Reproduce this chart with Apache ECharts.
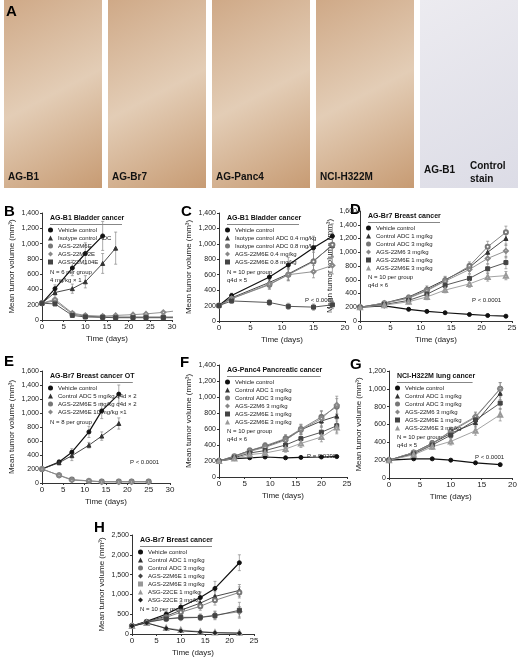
<!DOCTYPE html>
<html><head><meta charset="utf-8">
<script src="https://cdn.jsdelivr.net/npm/echarts@6/dist/echarts.min.js"></script>
<style>html,body{margin:0;background:#fff}#c{width:520px;height:658px}</style>
</head><body><div id="c"></div>
<script>
// ---- data ----
const photoLabels = ["AG-B1", "AG-Br7", "AG-Panc4", "NCI-H322M", "AG-B1"];

const bDays = [0, 3, 7, 10, 14, 17, 21, 24, 28, 31];
const bNames = ["Vehicle control", "Isotype control ADC", "AGS-22M6E", "AGS-22M22E", "AGS-22M104E"];
const bValues = [
  [220, 410, 680, 870, 1100],
  [220, 360, 410, 500, 740, 940],
  [220, 250, 80, 50, 40, 40, 40, 40, 40, 40],
  [220, 270, 90, 60, 50, 60, 70, 80, 100, 120],
  [220, 210, 60, 40, 35, 30, 30, 30, 30, 30]
];
const bErrors = [[20, 50, 100, 140, 190], [20, 40, 60, 80, 130, 210]];

const cDays = [0, 2, 8, 11, 15, 18];
const cNames = ["Vehicle control", "Isotype control ADC 0.4 mg/kg", "Isotype control ADC 0.8 mg/kg", "AGS-22M6E 0.4 mg/kg", "AGS-22M6E 0.8 mg/kg"];
const cValues = [
  [200, 330, 570, 725, 950, 1100],
  [200, 300, 500, 610, 780, 980],
  [200, 290, 470, 600, 770, 990],
  [200, 290, 480, 600, 640, 720],
  [200, 260, 240, 190, 180, 210]
];
const cErrors = [[10, 30, 70, 100, 150, 160], [10, 30, 60, 80, 130, 150], [10, 30, 60, 80, 120, 150], [10, 30, 60, 70, 80, 110], [10, 30, 40, 40, 40, 50]];

const dDays = [0, 4, 8, 11, 14, 18, 21, 24];
const dNames = ["Vehicle control", "Control ADC 1 mg/kg", "Control ADC 3 mg/kg", "AGS-22M6 3 mg/kg", "AGS-22M6E 1 mg/kg", "AGS-22M6E 3 mg/kg"];
const dValues = [
  [200, 220, 170, 140, 120, 95, 80, 70],
  [200, 260, 350, 470, 600, 780, 1000, 1200],
  [200, 260, 340, 450, 590, 800, 1080, 1290],
  [200, 260, 330, 440, 580, 750, 910, 1020],
  [200, 240, 300, 390, 520, 620, 760, 850],
  [200, 230, 280, 350, 450, 540, 640, 660]
];
const dErrors = [[5, 10, 10, 10, 10, 10, 10, 10], [10, 20, 30, 40, 50, 60, 80, 100], [10, 20, 30, 40, 50, 60, 80, 90], [10, 20, 30, 40, 50, 60, 80, 100], [10, 20, 30, 40, 50, 60, 70, 90], [10, 20, 30, 40, 40, 50, 60, 60]];

const eDays = [0, 4, 7, 11, 14, 18, 21, 25];
const eNames = ["Vehicle control", "Control ADC 5 mg/kg q4d × 2", "AGS-22M6E 5 mg/kg q4d × 2", "AGS-22M6E 10 mg/kg ×1"];
const eValues = [
  [200, 300, 440, 730, 1030, 1270],
  [200, 290, 390, 540, 670, 850],
  [200, 110, 50, 30, 20, 20, 20, 20],
  [200, 110, 40, 30, 15, 15, 15, 15]
];
const eErrors = [[10, 30, 50, 80, 110, 130], [10, 30, 70, 40, 60, 80]];

const fDays = [0, 3, 6, 9, 13, 16, 20, 23];
const fNames = ["Vehicle control", "Control ADC 1 mg/kg", "Control ADC 3 mg/kg", "AGS-22M6 3 mg/kg", "AGS-22M6E 1 mg/kg", "AGS-22M6E 3 mg/kg"];
const fValues = [
  [200, 230, 240, 250, 240, 245, 250, 255],
  [200, 260, 330, 380, 470, 590, 700, 760],
  [200, 260, 330, 390, 480, 600, 750, 880],
  [200, 250, 320, 370, 460, 590, 730, 900],
  [200, 240, 300, 330, 400, 480, 560, 640],
  [200, 230, 280, 300, 350, 420, 500, 620]
];
const fErrors = [[5, 10, 10, 10, 10, 10, 10, 10], [10, 20, 30, 40, 50, 60, 80, 90], [10, 20, 30, 40, 50, 60, 80, 100], [10, 20, 30, 40, 50, 60, 90, 110], [10, 20, 30, 40, 50, 60, 70, 80], [10, 20, 30, 30, 40, 50, 60, 80]];

const gDays = [0, 4, 7, 10, 14, 18];
const gNames = ["Vehicle control", "Control ADC 1 mg/kg", "Control ADC 3 mg/kg", "AGS-22M6 3 mg/kg", "AGS-22M6E 1 mg/kg", "AGS-22M6E 3 mg/kg"];
const gValues = [
  [200, 215, 215, 200, 170, 150],
  [200, 285, 390, 500, 620, 950],
  [200, 285, 390, 520, 680, 1000],
  [200, 285, 380, 530, 690, 1000],
  [200, 270, 370, 480, 650, 840],
  [200, 260, 350, 410, 530, 710]
];
const gErrors = [[5, 10, 10, 10, 10, 10], [10, 20, 30, 40, 50, 70], [10, 20, 30, 40, 50, 70], [10, 20, 30, 40, 50, 70], [10, 20, 30, 40, 50, 70], [10, 20, 30, 40, 50, 70]];

const hDays = [0, 3, 7, 10, 14, 17, 22];
const hNames = ["Vehicle control", "Control ADC 1 mg/kg", "Control ADC 3 mg/kg", "AGS-22M6E 1 mg/kg", "AGS-22M6E 3 mg/kg", "ASG-22CE 1 mg/kg", "ASG-22CE 3 mg/kg"];
const hValues = [
  [200, 320, 500, 680, 920, 1150, 1800],
  [200, 310, 450, 600, 780, 950, 1100],
  [200, 300, 420, 550, 700, 850, 1050],
  [200, 290, 380, 400, 420, 480, 560],
  [200, 300, 380, 420, 420, 460, 600],
  [200, 280, 150, 100, 60, 40, 30],
  [200, 280, 140, 80, 50, 30, 20]
];
const hErrors = [[10, 40, 70, 100, 140, 180, 200], [10, 40, 60, 90, 110, 130, 150], [10, 40, 60, 80, 100, 120, 140], [10, 40, 50, 60, 80, 100, 130], [10, 40, 50, 60, 80, 100, 200]];

// ---- chart ----
const symbols = ["circle", "triangle", "emptyCircle", "emptyDiamond", "rect", "emptyTriangle", "diamond"];
const legendIcons = ["circle", "triangle", "circle", "diamond", "rect", "triangle", "diamond"];
const colors = ["#111", "#333", "#777", "#888", "#444", "#999", "#222"];

const panels = [
  { key: "B", title: "AG-B1 Bladder cancer", days: bDays, names: bNames, values: bValues, errors: bErrors, note: ["N = 6 per group", "4 mg/kg × 1"], box: [42, 213, 130, 107], xMax: 30, yMax: 1400, yInt: 200, letter: [4, 204] },
  { key: "C", title: "AG-B1 Bladder cancer", days: cDays, names: cNames, values: cValues, errors: cErrors, note: ["N = 10 per group", "q4d × 5"], box: [219, 213, 126, 108], xMax: 20, yMax: 1400, yInt: 200, letter: [181, 204], p: "P < 0.0001" },
  { key: "D", title: "AG-Br7 Breast cancer", days: dDays, names: dNames, values: dValues, errors: dErrors, note: ["N = 10 per group", "q4d × 6"], box: [360, 211, 152, 110], xMax: 25, yMax: 1600, yInt: 200, letter: [350, 202], p: "P < 0.0001" },
  { key: "E", title: "AG-Br7 Breast cancer OT", days: eDays, names: eNames, values: eValues, errors: eErrors, note: ["N = 8 per group"], box: [42, 371, 128, 112], xMax: 30, yMax: 1600, yInt: 200, letter: [4, 354], p: "P < 0.0001" },
  { key: "F", title: "AG-Panc4 Pancreatic cancer", days: fDays, names: fNames, values: fValues, errors: fErrors, note: ["N = 10 per group", "q4d × 6"], box: [219, 365, 128, 112], xMax: 25, yMax: 1400, yInt: 200, letter: [180, 355], p: "P = 0.0298" },
  { key: "G", title: "NCI-H322M lung cancer", days: gDays, names: gNames, values: gValues, errors: gErrors, note: ["N = 10 per group", "q4d × 5"], box: [389, 371, 126, 107], xMax: 20, yMax: 1200, yInt: 200, letter: [350, 357], p: "P < 0.0001" },
  { key: "H", title: "AG-Br7 Breast cancer", days: hDays, names: hNames, values: hValues, errors: hErrors, note: ["N = 10 per group"], box: [132, 535, 122, 108], xMax: 25, yMax: 2500, yInt: 500, letter: [94, 520] }
];

const grid = [], xAxis = [], yAxis = [], series = [], legend = [], graphic = [];
const small = { fontFamily: "Liberation Sans", color: "#222" };

// photomicrograph placeholders
const photoX = [4, 108, 212, 316, 420];
photoX.forEach((x, i) => {
  const ctrl = i === 4;
  graphic.push({
    type: "rect", shape: { x: x, y: 0, width: 98, height: 188 },
    style: { fill: ctrl ? new echarts.graphic.LinearGradient(0, 0, 1, 1, [{ offset: 0, color: "#ecebf0" }, { offset: 1, color: "#dcdce6" }])
      : new echarts.graphic.LinearGradient(0, 0, 1, 1, [{ offset: 0, color: "#cfa987" }, { offset: 0.5, color: "#e3cdb6" }, { offset: 1, color: "#c79b73" }]) }
  });
  graphic.push({ type: "text", x: x + 4, y: ctrl ? 165 : 172, style: { text: photoLabels[i], font: "bold 10px Liberation Sans", fill: "#111" } });
});
graphic.push({ type: "text", x: 470, y: 160, style: { text: "Control\nstain", font: "bold 10px Liberation Sans", fill: "#111", lineHeight: 13 } });
graphic.push({ type: "text", x: 6, y: 4, style: { text: "A", font: "bold 15px Liberation Sans", fill: "#000" } });

panels.forEach((p, gi) => {
  const [l, t, w, h] = p.box;
  grid.push({ left: l, top: t, width: w, height: h });
  xAxis.push({
    gridIndex: gi, type: "value", min: 0, max: p.xMax, interval: 5,
    name: "Time (days)", nameLocation: "middle", nameGap: 15, nameTextStyle: { ...small, fontSize: 8 },
    axisLine: { lineStyle: { color: "#333" } }, axisTick: { length: 2 }, splitLine: { show: false },
    axisLabel: { ...small, fontSize: 8, margin: 3 }
  });
  yAxis.push({
    gridIndex: gi, type: "value", min: 0, max: p.yMax, interval: p.yInt,
    name: "Mean tumor volume (mm³)", nameLocation: "middle", nameGap: 26, nameTextStyle: { ...small, fontSize: 8 },
    axisLine: { show: true, lineStyle: { color: "#333" } }, axisTick: { show: true, length: 2 }, splitLine: { show: false },
    axisLabel: { ...small, fontSize: 7, margin: 3, formatter: v => v.toLocaleString("en-US") }
  });
  p.names.forEach((n, si) => {
    const c = colors[si % colors.length];
    series.push({
      name: n, type: "line", xAxisIndex: gi, yAxisIndex: gi, z: 3,
      data: p.values[si].map((v, k) => [p.days[k], v]),
      symbol: symbols[si % symbols.length], symbolSize: 4,
      lineStyle: { width: si === 0 ? 1.2 : 0.9, color: c },
      itemStyle: { color: c, borderColor: c }
    });
    const err = p.errors[si];
    if (err) {
      series.push({
        type: "custom", xAxisIndex: gi, yAxisIndex: gi, z: 2, silent: true,
        data: p.values[si].map((v, k) => [p.days[k], v - err[k], v + err[k]]),
        renderItem: (params, api) => {
          const lo = api.coord([api.value(0), api.value(1)]);
          const hi = api.coord([api.value(0), api.value(2)]);
          const st = { stroke: "#888", lineWidth: 0.7 };
          return { type: "group", children: [
            { type: "line", shape: { x1: lo[0], y1: lo[1], x2: hi[0], y2: hi[1] }, style: st },
            { type: "line", shape: { x1: lo[0] - 1.5, y1: lo[1], x2: lo[0] + 1.5, y2: lo[1] }, style: st },
            { type: "line", shape: { x1: hi[0] - 1.5, y1: hi[1], x2: hi[0] + 1.5, y2: hi[1] }, style: st }
          ] };
        }
      });
    }
  });
  legend.push({
    data: p.names.map((n, si) => ({ name: n, icon: legendIcons[si % legendIcons.length] })),
    left: l + 6, top: t + 14, orient: "vertical", itemWidth: 5, itemHeight: 5, itemGap: 2, padding: 0,
    textStyle: { ...small, fontSize: 6 }, selectedMode: false
  });
  graphic.push({ type: "text", x: l + 8, y: t + 2, style: { text: p.title, font: "bold 7px Liberation Sans", fill: "#111" } });
  graphic.push({ type: "rect", shape: { x: l + 8, y: t + 11, width: p.title.length * 3.6, height: 0.6 }, style: { fill: "#111" } });
  graphic.push({ type: "text", x: l + 8, y: t + 17 + p.names.length * 7.6, style: { text: p.note.join("\n"), font: "6px Liberation Sans", fill: "#222", lineHeight: 8 } });
  if (p.p) graphic.push({ type: "text", x: l + w - 40, y: t + h - 24, style: { text: p.p, font: "6px Liberation Sans", fill: "#222" } });
  graphic.push({ type: "text", x: p.letter[0], y: p.letter[1], style: { text: p.key, font: "bold 15px Liberation Sans", fill: "#000" } });
});

const myChart = echarts.init(document.getElementById("c"));
myChart.setOption({ animation: false, grid, xAxis, yAxis, series, legend, graphic });
</script>
</body></html>
